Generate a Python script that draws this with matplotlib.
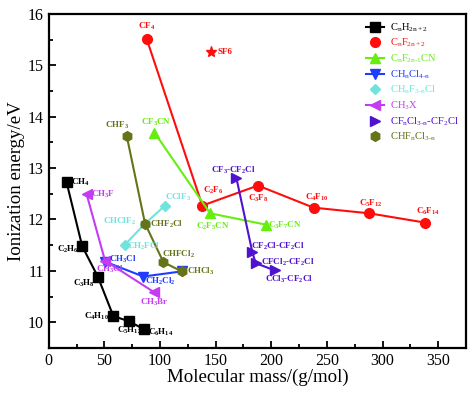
import matplotlib
matplotlib.use('Agg')
import matplotlib.pyplot as plt
from matplotlib.lines import Line2D
from matplotlib.ticker import MultipleLocator

plt.rcParams['font.family'] = ['Liberation Serif', 'DejaVu Serif']
plt.rcParams['mathtext.fontset'] = 'custom'
plt.rcParams['mathtext.rm'] = 'Liberation Serif'
plt.rcParams['mathtext.bf'] = 'Liberation Serif:bold'
plt.rcParams['mathtext.it'] = 'Liberation Serif:italic'
plt.rcParams['mathtext.default'] = 'rm'

# ── Data ───────────────────────────────────────────────────────────────────────
alkane_x = [16, 30, 44, 58, 72, 86]
alkane_y = [12.72, 11.48, 10.89, 10.12, 10.02, 9.86]
alkane_lbl = ['CH4', 'C2H6', 'C3H8', 'C4H10', 'C5H12', 'C6H14']

pfc_x = [88, 138, 188, 238, 288, 338]
pfc_y = [15.51, 12.27, 12.66, 12.23, 12.12, 11.94]
pfc_lbl = ['CF4', 'C2F6', 'C3F8', 'C4F10', 'C5F12', 'C6F14']

sf6_x, sf6_y = 146, 15.26

nitrile_x = [95, 145, 195]
nitrile_y = [13.69, 12.12, 11.90]
nitrile_lbl = ['CF3CN', 'C2F5CN', 'C3F7CN']

chlmeth_x = [50.5, 85, 119.4]
chlmeth_y = [11.18, 10.89, 10.99]
chlmeth_lbl = ['CH3Cl', 'CH2Cl2', None]

cfc_x = [68.5, 86.5, 104.5]
cfc_y = [11.51, 11.92, 12.27]
cfc_lbl = ['CH2FCl', 'CHClF2', 'CClF3']

mehal_x = [34, 50.5, 95]
mehal_y = [12.49, 11.20, 10.58]
mehal_lbl = ['CH3F', 'CH3Cl', 'CH3Br']

ethcl_x = [168.7, 183, 186, 203]
ethcl_y = [12.80, 11.36, 11.15, 11.01]
ethcl_lbl = ['CF3-CF2Cl', 'CF2Cl-CF2Cl', 'CFCl2-CF2Cl', 'CCl3-CF2Cl']

hcfc_x = [70, 86.5, 103, 119.4]
hcfc_y = [13.63, 11.92, 11.17, 10.99]
hcfc_lbl = ['CHF3', 'CHF2Cl', 'CHFCl2', 'CHCl3']

legend_lbl = [r'C$_\mathrm{n}$H$_\mathrm{2n+2}$', r'C$_\mathrm{n}$F$_\mathrm{2n+2}$',
              r'C$_\mathrm{n}$F$_\mathrm{2n\text{-}1}$CN', r'CH$_\mathrm{n}$Cl$_\mathrm{4\text{-}n}$',
              r'CH$_\mathrm{n}$F$_\mathrm{3\text{-}n}$Cl', r'CH$_3$X',
              r'CF$_\mathrm{n}$Cl$_\mathrm{3\text{-}n}$-CF$_2$Cl', r'CHF$_\mathrm{n}$Cl$_\mathrm{3\text{-}n}$']

BLACK, RED, GREEN = 'black', '#ff0d0d', '#66ee11'
BLUE, CYAN, PURPLE = '#1f3cff', '#6fe3dc', '#c43cf2'
INDIGO, OLIVE = '#4f12cf', '#667319'


def chem(s):
    """Bold label with digit subscripts."""
    out = ''
    for ch in s:
        out += r'$_\mathbf{%s}$' % ch if ch.isdigit() else ch
    return out


fig = plt.figure(figsize=(4.74, 3.95), dpi=100)
ax = fig.add_axes([0.103, 0.119, 0.880, 0.846])

series = [
    (alkane_x, alkane_y, BLACK, 's', True),
    (pfc_x, pfc_y, RED, 'o', False),
    (nitrile_x, nitrile_y, GREEN, '^', True),
    (chlmeth_x, chlmeth_y, BLUE, 'v', True),
    (cfc_x, cfc_y, CYAN, 'D', False),
    (mehal_x, mehal_y, PURPLE, '<', True),
    (ethcl_x, ethcl_y, INDIGO, '>', False),
    (hcfc_x, hcfc_y, OLIVE, 'h', False),
]
handles = []
for (xs, ys, c, m, line_in_leg), lbl in zip(series, legend_lbl):
    ms = 5.5 if m == 'D' else 7
    ax.plot(xs, ys, color=c, marker=m, ms=ms, lw=1.5, zorder=3)
    handles.append(Line2D([], [], color=c, marker=m, ms=ms,
                          lw=1.5 if line_in_leg else 0))

ax.plot([sf6_x], [sf6_y], marker='*', color=RED, ms=8, lw=0, zorder=3)

# label offsets in pixels (dx, dy, ha)
labels = [
    (alkane_x, alkane_y, alkane_lbl, BLACK,
     [(4, 0, 'left'), (-3, -3, 'right'), (-3, -7, 'right'), (-4, 0, 'right'),
      (1, -9, 'center'), (4, -3, 'left')]),
    (pfc_x, pfc_y, pfc_lbl, RED,
     [(0, 13, 'center'), (11, 15, 'center'), (0, -13, 'center'),
      (3, 10, 'center'), (2, 10, 'center'), (3, 11, 'center')]),
    (nitrile_x, nitrile_y, nitrile_lbl, GREEN,
     [(2, 10, 'center'), (3, -13, 'center'), (2, -1, 'left')]),
    (chlmeth_x, chlmeth_y, chlmeth_lbl, BLUE,
     [(4, 2, 'left'), (2, -5, 'left'), None]),
    (cfc_x, cfc_y, cfc_lbl, CYAN,
     [(2, -2, 'left'), (-9, 2, 'right'), (0, 8, 'left')]),
    (mehal_x, mehal_y, mehal_lbl, PURPLE,
     [(4, 0, 'left'), (5, -9, 'center'), (0, -10, 'center')]),
    (ethcl_x, ethcl_y, ethcl_lbl, INDIGO,
     [(-3, 8, 'center'), (-1, 6, 'left'), (5, 1, 'left'), (-10, -9, 'left')]),
    (hcfc_x, hcfc_y, hcfc_lbl, OLIVE,
     [(-10, 10, 'center'), (5, -1, 'left'), (-1, 8, 'left'), (5, 0, 'left')]),
]
for xs, ys, names, c, offs in labels:
    for x, y, name, off in zip(xs, ys, names, offs):
        if name is None:
            continue
        dx, dy, ha = off
        ax.annotate(chem(name), xy=(x, y), xytext=(dx, dy),
                    textcoords='offset pixels', ha=ha, va='center',
                    color=c, fontsize=6.5, fontweight='bold', zorder=4)
ax.annotate('SF6', xy=(sf6_x, sf6_y), xytext=(6, 0), textcoords='offset pixels',
            ha='left', va='center', color=RED, fontsize=6.5, fontweight='bold')

leg = ax.legend(handles, legend_lbl, loc='upper right', frameon=False,
                fontsize=7.6, labelspacing=0.3, handlelength=1.7,
                handletextpad=0.5, borderaxespad=0.3)
for t, (_, _, c, _, _) in zip(leg.get_texts(), series):
    t.set_color(c)

ax.set_xlim(0, 375)
ax.set_ylim(9.5, 16)
ax.xaxis.set_major_locator(MultipleLocator(50))
ax.xaxis.set_minor_locator(MultipleLocator(25))
ax.yaxis.set_major_locator(MultipleLocator(1))
ax.yaxis.set_minor_locator(MultipleLocator(0.5))
ax.tick_params(which='both', direction='in', width=1.3, labelsize=11.5)
ax.tick_params(which='major', length=5)
ax.tick_params(which='minor', length=3)
for s in ax.spines.values():
    s.set_linewidth(1.6)
ax.set_xlabel('Molecular mass/(g/mol)', fontsize=13.6, labelpad=0)
ax.set_ylabel('Ionization energy/eV', fontsize=13.6, labelpad=2)

fig.savefig('out.png', dpi=100)
